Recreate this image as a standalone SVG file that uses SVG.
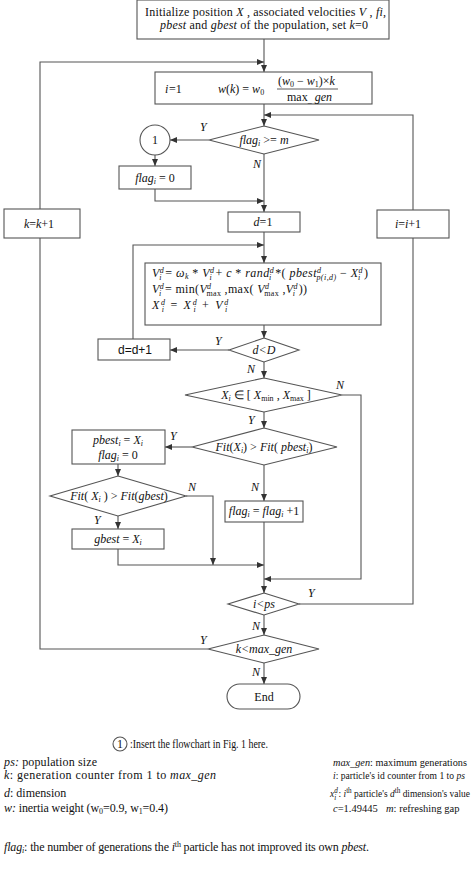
<svg xmlns="http://www.w3.org/2000/svg" width="474" height="870" viewBox="0 0 474 870">
<defs>
<marker id="ah" markerWidth="8" markerHeight="8" refX="7" refY="4" orient="auto" markerUnits="userSpaceOnUse">
<path d="M0,1 L7,4 L0,7 Z" fill="#333"/>
</marker>
<style>
.n{fill:#fff;stroke:#555;stroke-width:1.1}
.c{fill:none;stroke:#555;stroke-width:1.1;marker-end:url(#ah)}
.p{fill:none;stroke:#555;stroke-width:1.1}
text{font-family:"Liberation Serif","Times New Roman",serif;font-size:12px;fill:#111}
.m{text-anchor:middle}
.i{font-style:italic}
.s{font-size:8px}
.l{font-size:12px}
.r{font-size:10.5px}
.sans{font-family:"Liberation Sans",Arial,sans-serif}
</style>
</defs>
<rect width="474" height="870" fill="#fff"/>

<g id="connectors">
<path class="c" d="M264,39 V72"/>
<path class="c" d="M40,209 V62 H264"/>
<path class="c" d="M264,104 V126"/>
<path class="c" d="M413,210 V115 H264"/>
<path class="c" d="M209,140 H170"/>
<path class="c" d="M155,155 V166"/>
<path class="c" d="M155,189 V201 H264"/>
<path class="c" d="M264,154 V212"/>
<path class="c" d="M264,232 V263"/>
<path class="c" d="M133,339 V245 H264"/>
<path class="c" d="M264,325 V338"/>
<path class="c" d="M229,350 H170"/>
<path class="c" d="M264,362 V378"/>
<path class="c" d="M342,395 H361 V579 H264"/>
<path class="c" d="M264,412 V428"/>
<path class="c" d="M192,447 H165"/>
<path class="c" d="M118,464 V476"/>
<path class="c" d="M186,496 H213 V565"/>
<path class="c" d="M118,516 V529"/>
<path class="c" d="M118,549 V565 H264"/>
<path class="c" d="M264,465 V501"/>
<path class="c" d="M264,522 V593"/>
<path class="p" d="M299,604 H413 V238"/>
<path class="c" d="M264,615 V635"/>
<path class="p" d="M208,649 H40 V238"/>
<path class="c" d="M264,663 V684"/>
<g class="i">
<text x="200" y="131">Y</text>
<text x="253" y="168">N</text>
<text x="215" y="345">Y</text>
<text x="247" y="373">N</text>
<text x="336" y="389">N</text>
<text x="248" y="424">Y</text>
<text x="170" y="440">Y</text>
<text x="188" y="491">N</text>
<text x="94" y="524">Y</text>
<text x="251" y="491">N</text>
<text x="308" y="597">Y</text>
<text x="252" y="630">N</text>
<text x="200" y="644">Y</text>
<text x="252" y="676">N</text>
</g>
</g>

<g id="init">
<rect class="n" x="137" y="0" width="252" height="39"/>
<text x="145" y="16" textLength="241" lengthAdjust="spacing" font-size="12.5">Initialize  position <tspan class="i">X</tspan> , associated velocities <tspan class="i">V</tspan> , <tspan class="i">fi</tspan>,</text>
<text x="160" y="29" textLength="208" lengthAdjust="spacing" font-size="12.5"><tspan class="i">pbest</tspan> and <tspan class="i">gbest</tspan> of the population,  set <tspan class="i">k</tspan>=0</text>
</g>

<g id="setw">
<rect class="n" x="155" y="72" width="217" height="32"/>
<text x="165" y="93" class="i">i</text><text x="169" y="93">=1</text>
<text x="218" y="93"><tspan class="i">w</tspan>(<tspan class="i">k</tspan>) = <tspan class="i">w</tspan><tspan class="s" dy="2">0</tspan></text>
<text x="278" y="85">(<tspan class="i">w</tspan><tspan class="s" dy="2">0</tspan><tspan dy="-2"> − </tspan><tspan class="i">w</tspan><tspan class="s" dy="2">1</tspan><tspan dy="-2">)×</tspan><tspan class="i">k</tspan></text>
<line x1="277" y1="89" x2="338" y2="89" stroke="#333" stroke-width="0.8"/>
<text x="287" y="101">max<tspan class="s" dy="2">_</tspan><tspan class="i" dy="-2"> gen</tspan></text>
</g>

<g id="dflag">
<polygon class="n" points="264,126 319,140 264,154 209,140"/>
<text class="m i" x="264" y="144">flag<tspan class="s" dy="2">i</tspan><tspan dy="-2" font-style="normal"> &gt;= </tspan>m</text>
</g>

<g id="conn1">
<circle class="n" cx="155" cy="140" r="15"/>
<text class="m" x="155" y="144">1</text>
</g>

<g id="flag0">
<rect class="n" x="119" y="166" width="72" height="23"/>
<text class="m" x="155" y="182"><tspan class="i">flag</tspan><tspan class="s i" dy="2">i</tspan><tspan dy="-2"> = 0</tspan></text>
</g>

<g id="kinc">
<rect class="n" x="4" y="209" width="76" height="29"/>
<text class="m" x="39" y="228"><tspan class="i">k</tspan>=<tspan class="i">k</tspan>+1</text>
</g>

<g id="iinc">
<rect class="n" x="377" y="210" width="72" height="28"/>
<text class="m" x="408" y="228"><tspan class="i">i</tspan>=<tspan class="i">i</tspan>+1</text>
</g>

<g id="d1">
<rect class="n" x="228" y="212" width="72" height="20"/>
<text class="m" x="263" y="226"><tspan class="i">d</tspan>=1</text>
</g>

<g id="update">
<rect class="n" x="145" y="263" width="236" height="62"/>
<text x="152" y="277" textLength="216" lengthAdjust="spacing"><tspan class="i">V</tspan><tspan class="s i" dy="-4">d</tspan><tspan class="s i" dx="-5" dy="7">i</tspan><tspan dy="-3"> = </tspan><tspan class="i">ω</tspan><tspan class="s i" dy="2">k</tspan><tspan dy="-2"> * </tspan><tspan class="i">V</tspan><tspan class="s i" dy="-4">d</tspan><tspan class="s i" dx="-5" dy="7">i</tspan><tspan dy="-3"> + </tspan><tspan class="i">c</tspan> * <tspan class="i">rand</tspan><tspan class="s i" dy="-4">d</tspan><tspan class="s i" dx="-5" dy="7">i</tspan><tspan dy="-3"> *( </tspan><tspan class="i">pbest</tspan><tspan class="s i" dy="-4">d</tspan><tspan class="s i" dx="-5" dy="7">p(i,d)</tspan><tspan dy="-3"> − </tspan><tspan class="i">X</tspan><tspan class="s i" dy="-4">d</tspan><tspan class="s i" dx="-5" dy="7">i</tspan><tspan dy="-3"> )</tspan></text>
<text x="152" y="293" textLength="155" lengthAdjust="spacing"><tspan class="i">V</tspan><tspan class="s i" dy="-4">d</tspan><tspan class="s i" dx="-5" dy="7">i</tspan><tspan dy="-3"> = min(</tspan><tspan class="i">V</tspan><tspan class="s i" dy="-4">d</tspan><tspan class="s" dx="-5" dy="7">max</tspan><tspan dy="-3"> ,max(  </tspan><tspan class="i">V</tspan><tspan class="s i" dy="-4">d</tspan><tspan class="s" dx="-5" dy="7">max</tspan><tspan dy="-3"> ,</tspan><tspan class="i">V</tspan><tspan class="s i" dy="-4">d</tspan><tspan class="s i" dx="-5" dy="7">i</tspan><tspan dy="-3"> ))</tspan></text>
<text x="152" y="309" textLength="78" lengthAdjust="spacing"><tspan class="i">X</tspan><tspan class="s i" dy="-4">d</tspan><tspan class="s i" dx="-5" dy="7">i</tspan><tspan dy="-3"> = </tspan><tspan class="i">X</tspan><tspan class="s i" dy="-4">d</tspan><tspan class="s i" dx="-5" dy="7">i</tspan><tspan dy="-3"> + </tspan><tspan class="i">V</tspan><tspan class="s i" dy="-4">d</tspan><tspan class="s i" dx="-5" dy="7">i</tspan></text>
</g>

<g id="ddiam">
<polygon class="n" points="264,338 299,350 264,362 229,350"/>
<text class="m i" x="264" y="354">d&lt;D</text>
</g>

<g id="dinc">
<rect class="n" x="98" y="339" width="72" height="21"/>
<text class="m sans" x="135" y="354">d=d+1</text>
</g>

<g id="xdiam">
<polygon class="n" points="264,378 342,395 264,412 185,395"/>
<text class="m" x="266" y="399" font-size="11"><tspan class="i">X</tspan><tspan class="s i" dy="2">i</tspan><tspan dy="-2"> ∈ [ </tspan><tspan class="i">X</tspan><tspan class="s" dy="2">min</tspan><tspan dy="-2"> , </tspan><tspan class="i">X</tspan><tspan class="s" dy="2">max</tspan><tspan dy="-2"> ]</tspan></text>
</g>

<g id="fitp">
<polygon class="n" points="264,428 337,447 264,465 192,447"/>
<text class="m" x="264" y="451"><tspan class="i">Fit</tspan>(<tspan class="i">X</tspan><tspan class="s i" dy="2">i</tspan><tspan dy="-2">) &gt; </tspan><tspan class="i">Fit</tspan>( <tspan class="i">pbest</tspan><tspan class="s i" dy="2">i</tspan><tspan dy="-2">)</tspan></text>
</g>

<g id="pbestset">
<rect class="n" x="72" y="430" width="93" height="34"/>
<text class="m" x="118" y="444"><tspan class="i">pbest</tspan><tspan class="s i" dy="2">i</tspan><tspan dy="-2"> = </tspan><tspan class="i">X</tspan><tspan class="s i" dy="2">i</tspan></text>
<text class="m" x="118" y="459"><tspan class="i">flag</tspan><tspan class="s i" dy="2">i</tspan><tspan dy="-2"> = 0</tspan></text>
</g>

<g id="fitg">
<polygon class="n" points="118,476 186,496 118,516 50,496"/>
<text class="m" x="119" y="500"><tspan class="i">Fit</tspan>( <tspan class="i">X</tspan><tspan class="s i" dy="2">i</tspan><tspan dy="-2"> ) &gt; </tspan><tspan class="i">Fit</tspan>(<tspan class="i">gbest</tspan>)</text>
</g>

<g id="gbestset">
<rect class="n" x="72" y="529" width="92" height="20"/>
<text class="m" x="118" y="543"><tspan class="i">gbest</tspan> = <tspan class="i">X</tspan><tspan class="s i" dy="2">i</tspan></text>
</g>

<g id="flaginc">
<rect class="n" x="225" y="501" width="78" height="21"/>
<text class="m" x="264" y="515"><tspan class="i">flag</tspan><tspan class="s i" dy="2">i</tspan><tspan dy="-2"> = </tspan><tspan class="i">flag</tspan><tspan class="s i" dy="2">i</tspan><tspan dy="-2"> +1</tspan></text>
</g>

<g id="ips">
<polygon class="n" points="264,593 299,604 264,615 228,604"/>
<text class="m i" x="264" y="608">i&lt;ps</text>
</g>

<g id="kmax">
<polygon class="n" points="264,635 319,649 264,663 208,649"/>
<text class="m i" x="264" y="653">k&lt;max_gen</text>
</g>

<g id="end">
<rect class="n" x="227" y="684" width="73" height="25" rx="12.5"/>
<text class="m" x="264" y="701">End</text>
</g>

<g id="legend">
<circle class="n" cx="120" cy="744" r="7"/>
<text class="m" x="120" y="748" font-size="10">1</text>
<text x="130" y="748" font-size="10.5" textLength="138" lengthAdjust="spacingAndGlyphs">:Insert the flowchart in Fig. 1 here.</text>
<text class="l" x="4" y="766" textLength="93" lengthAdjust="spacing"><tspan class="i">ps:</tspan> population size</text>
<text class="l" x="4" y="779" textLength="212" lengthAdjust="spacing"><tspan class="i">k</tspan>: generation counter from 1 to <tspan class="i">max_gen</tspan></text>
<text class="l" x="4" y="797" font-size="11"><tspan class="i">d</tspan>: dimension</text>
<text class="l" x="4" y="812" textLength="164" lengthAdjust="spacing"><tspan class="i">w:</tspan> inertia weight  (w<tspan class="s" dy="2">0</tspan><tspan dy="-2">=0.9, w</tspan><tspan class="s" dy="2">1</tspan><tspan dy="-2">=0.4)</tspan></text>
<text class="r" x="333" y="766" textLength="134" lengthAdjust="spacingAndGlyphs"><tspan class="i">max_gen</tspan>: maximum generations</text>
<text class="r" x="333" y="779" textLength="132" lengthAdjust="spacingAndGlyphs"><tspan class="i">i</tspan>: particle's id counter from 1 to <tspan class="i">ps</tspan></text>
<text class="r" x="330" y="797" textLength="140" lengthAdjust="spacingAndGlyphs"><tspan class="i">x</tspan><tspan class="s i" dy="-4">d</tspan><tspan class="s i" dx="-4" dy="7">i</tspan><tspan dy="-3"> : </tspan><tspan class="i">i</tspan><tspan class="s" dy="-4">th</tspan><tspan dy="4"> particle's </tspan><tspan class="i">d</tspan><tspan class="s" dy="-4">th</tspan><tspan dy="4"> dimension's value</tspan></text>
<text class="r" x="333" y="812"><tspan class="i">c</tspan>=1.49445</text>
<text class="r" x="386" y="812"><tspan class="i">m</tspan>: refreshing gap</text>
<text class="l" x="4" y="851" font-size="11.5" textLength="365" lengthAdjust="spacing"><tspan class="i">flag</tspan><tspan class="s i" dy="2">i</tspan><tspan dy="-2">: the number of generations the </tspan><tspan class="i">i</tspan><tspan class="s" dy="-4">th</tspan><tspan dy="4"> particle has not improved its own </tspan><tspan class="i">pbest</tspan>.</text>
</g>
</svg>
